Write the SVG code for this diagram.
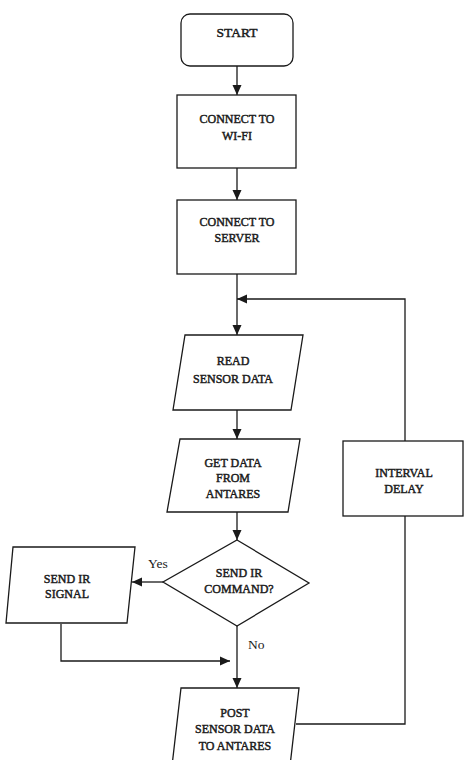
<svg xmlns="http://www.w3.org/2000/svg" width="474" height="760" viewBox="0 0 474 760">
<style>
.shape{fill:#fff;stroke:#1a1a1a;stroke-width:1.3}
.lbl{font-family:"Liberation Serif","Times New Roman",serif;font-weight:normal;font-size:12px;fill:#1a1a1a;stroke:#1a1a1a;stroke-width:0.45;text-anchor:middle}
.big{font-size:13.5px}
.edge{fill:none;stroke:#1a1a1a;stroke-width:1.3}
.elbl{font-family:"Liberation Serif","Times New Roman",serif;font-size:13.5px;fill:#1a1a1a}
</style>
<defs>
<marker id="arr" markerUnits="userSpaceOnUse" markerWidth="10" markerHeight="10" refX="10" refY="5" orient="auto">
<path d="M0,0.5 L10,5 L0,9.5 z" fill="#1a1a1a"/>
</marker>
</defs>
<rect width="474" height="760" fill="#fff"/>
<g id="connectors">
<line class="edge" x1="237" y1="66" x2="237" y2="95" marker-end="url(#arr)"/>
<line class="edge" x1="237" y1="168" x2="237" y2="200" marker-end="url(#arr)"/>
<line class="edge" x1="237" y1="274" x2="237" y2="335" marker-end="url(#arr)"/>
<line class="edge" x1="237" y1="410" x2="237" y2="439" marker-end="url(#arr)"/>
<line class="edge" x1="237" y1="512" x2="237" y2="540" marker-end="url(#arr)"/>
<line class="edge" x1="163" y1="582" x2="132" y2="582" marker-end="url(#arr)"/>
<line class="edge" x1="237" y1="626" x2="237" y2="688" marker-end="url(#arr)"/>
<polyline class="edge" points="61,624 61,661 230,661" marker-end="url(#arr)"/>
<polyline class="edge" points="296,724 405,724 405,516"/>
<polyline class="edge" points="405,441 405,299 237,299" marker-end="url(#arr)"/>
<text class="elbl" x="148" y="568">Yes</text>
<text class="elbl" x="248" y="649">No</text>
</g>
<g id="start">
<rect class="shape" x="181" y="14" width="112" height="52" rx="9"/>
<text class="lbl big" x="237" y="36.5">START</text>
</g>
<g id="wifi">
<rect class="shape" x="177" y="95" width="119" height="73"/>
<text class="lbl" x="237" y="123">CONNECT TO</text>
<text class="lbl" x="237" y="140">WI-FI</text>
</g>
<g id="server">
<rect class="shape" x="177" y="200" width="119" height="74"/>
<text class="lbl" x="237" y="226">CONNECT TO</text>
<text class="lbl" x="237" y="242">SERVER</text>
</g>
<g id="read">
<polygon class="shape" points="185,335 303,335 291,410 173,410"/>
<text class="lbl" x="233" y="365">READ</text>
<text class="lbl" x="233" y="383">SENSOR DATA</text>
</g>
<g id="get">
<polygon class="shape" points="180,439 300,439 288,512 167,512"/>
<text class="lbl" x="233" y="467">GET DATA</text>
<text class="lbl" x="233" y="482">FROM</text>
<text class="lbl" x="233" y="498">ANTARES</text>
</g>
<g id="interval">
<rect class="shape" x="343" y="441" width="120" height="75"/>
<text class="lbl" x="404" y="477">INTERVAL</text>
<text class="lbl" x="404" y="493">DELAY</text>
</g>
<g id="decision">
<polygon class="shape" points="237,540 309,583 237,626 163,582"/>
<text class="lbl" x="239" y="577">SEND IR</text>
<text class="lbl" x="239" y="593">COMMAND?</text>
</g>
<g id="sendir">
<polygon class="shape" points="13,547 135,547 127,623 6,623"/>
<text class="lbl" x="67" y="583">SEND IR</text>
<text class="lbl" x="67" y="598">SIGNAL</text>
</g>
<g id="post">
<polygon class="shape" points="181,688 299,688 290,766 172,766"/>
<text class="lbl" x="235" y="717">POST</text>
<text class="lbl" x="235" y="733">SENSOR DATA</text>
<text class="lbl" x="235" y="750">TO ANTARES</text>
</g>
</svg>
